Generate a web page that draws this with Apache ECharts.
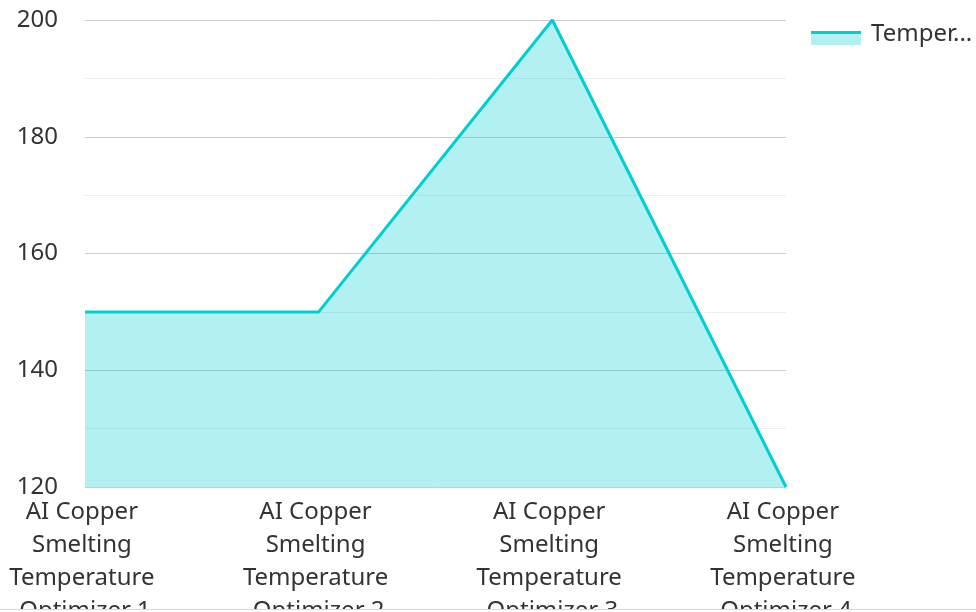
<!DOCTYPE html>
<html><head><meta charset="utf-8">
<script src="https://cdn.jsdelivr.net/npm/echarts@6/dist/echarts.min.js"></script>
<style>html,body{margin:0;padding:0;background:#fff;}#c{width:976px;height:609px;border-bottom:1px solid #d9d9d9;}</style>
</head><body><div id="c"></div>
<script>
var categories = ['AI Copper Smelting Temperature Optimizer 1','AI Copper Smelting Temperature Optimizer 2','AI Copper Smelting Temperature Optimizer 3','AI Copper Smelting Temperature Optimizer 4'];
var seriesName = 'Temperature';
var values = [150, 150, 200, 120];
var yTicks = {min:120, max:200, interval:20};
var font = 'Noto Sans';
var iconSvg = '<svg xmlns="http://www.w3.org/2000/svg" width="50" height="28"><rect x="0" y="14" width="50" height="11" fill="rgba(0,206,209,0.3)"/><rect x="0" y="11" width="50" height="3" fill="#00CED1"/></svg>';
var icon = 'image://data:image/svg+xml;charset=utf-8,' + encodeURIComponent(iconSvg);
var chart = echarts.init(document.getElementById('c'));
chart.setOption({
  animation:false,
  textStyle:{fontFamily:font},
  grid:{left:85, right:190, top:20, bottom:122, outerBoundsMode:'none', containLabel:false},
  legend:{left:806, top:15, itemWidth:50, itemHeight:28, itemGap:10,
    textStyle:{fontFamily:font, fontSize:24, color:'#333', width:114, overflow:'truncate', padding:[0,0,0,5]},
    data:[{name:seriesName, icon:icon}]},
  xAxis:{type:'category', boundaryGap:false, data:categories,
    axisLine:{show:true, lineStyle:{color:'#ccc'}}, axisTick:{show:false},
    axisLabel:{interval:0, fontFamily:font, fontSize:24, lineHeight:33, color:'#333', width:160, overflow:'break', margin:9}},
  yAxis:{type:'value', min:yTicks.min, max:yTicks.max, interval:yTicks.interval,
    axisLabel:{fontFamily:font, fontSize:24, color:'#333', margin:27},
    splitLine:{lineStyle:{color:'#ccc'}},
    minorTick:{show:false, splitNumber:2},
    minorSplitLine:{show:true, lineStyle:{color:'#eee'}}},
  series:[{name:seriesName, type:'line', data:values, symbol:'none',
    lineStyle:{color:'#00CED1', width:3}, itemStyle:{color:'#00CED1'},
    areaStyle:{color:'#00CED1', opacity:0.3}}]
});
</script></body></html>
